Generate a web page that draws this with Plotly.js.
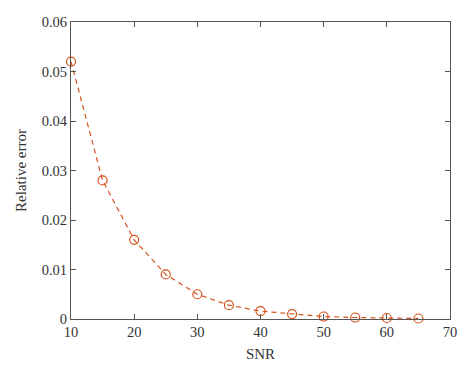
<!DOCTYPE html>
<html><head><meta charset="utf-8">
<script src="https://cdn.plot.ly/plotly-3.0.1.min.js"></script>
<style>html,body{margin:0;padding:0;background:#fff}#chart{width:474px;height:376px}</style>
</head><body><div id="chart"></div>
<script>
const snr = [10, 15, 20, 25, 30, 35, 40, 45, 50, 55, 60, 65];
const relErr = [0.052, 0.028, 0.016, 0.009, 0.005, 0.0028, 0.0016, 0.001, 0.0005, 0.0003, 0.0002, 0.0001];
const xTicks = [10, 20, 30, 40, 50, 60, 70];
const yTicks = [0, 0.01, 0.02, 0.03, 0.04, 0.05, 0.06];
const yTickText = ['0', '0.01', '0.02', '0.03', '0.04', '0.05', '0.06'];

const fontFam = '"Liberation Serif", "DejaVu Serif", serif';
const axCommon = {
  showgrid: false, zeroline: false, showline: true, linecolor: '#555', linewidth: 1,
  mirror: 'ticks', ticks: 'inside', ticklen: 5, tickcolor: '#555', tickwidth: 1,
  tickfont: {family: fontFam, size: 14.5, color: '#333'}
};
Plotly.newPlot('chart', [{
  x: snr, y: relErr, type: 'scatter', mode: 'lines+markers',
  line: {color: '#d6521f', width: 1.2, dash: '5px,4px'},
  marker: {symbol: 'circle-open', size: 9, color: '#d6521f', line: {width: 1.2, color: '#d6521f'}},
  cliponaxis: false
}], {
  width: 474, height: 376,
  margin: {l: 71, r: 24, t: 22, b: 57},
  paper_bgcolor: '#fff', plot_bgcolor: '#fff',
  showlegend: false,
  xaxis: Object.assign({}, axCommon, {range: [10, 70], tickvals: xTicks, ticktext: xTicks.map(String),
    title: {text: 'SNR', font: {family: fontFam, size: 15, color: '#333'}, standoff: 9}}),
  yaxis: Object.assign({}, axCommon, {range: [0, 0.06], tickvals: yTicks, ticktext: yTickText,
    title: {text: 'Relative error', font: {family: fontFam, size: 15, color: '#333'}, standoff: 11}})
}, {displayModeBar: false, staticPlot: true});
</script></body></html>
